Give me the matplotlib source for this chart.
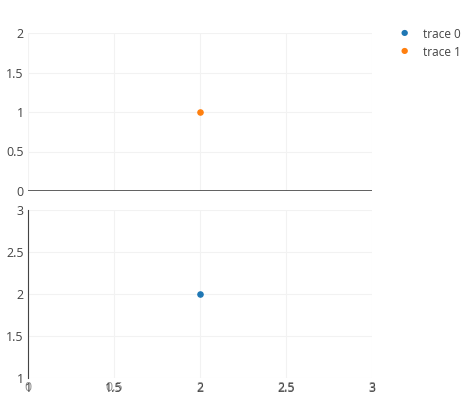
import matplotlib.pyplot as plt

plt.rcParams['font.family'] = ['Open Sans', 'DejaVu Sans']

trace0_x = [2]
trace0_y = [2]
trace1_x = [2]
trace1_y = [1]
x_ticks = [1, 1.5, 2, 2.5, 3]
x_overlay_labels = ['0', '0.5', '2', '2.5', '3']
top_yticks = [0, 0.5, 1, 1.5, 2]
bot_yticks = [1, 1.5, 2, 2.5, 3]

W, H = 474, 412
fig = plt.figure(figsize=(W / 100, H / 100), dpi=100)

def box(x0, x1, ytop, ybot):
    return [x0 / W, 1 - ybot / H, (x1 - x0) / W, (ybot - ytop) / H]

ax_top = fig.add_axes(box(28, 372, 33, 191))
ax_bot = fig.add_axes(box(28, 372, 210, 378))

grey = '#444444'
for ax in (ax_top, ax_bot):
    for s in ax.spines.values():
        s.set_visible(False)
    ax.set_xlim(1, 3)
    ax.set_xticks(x_ticks)
    ax.grid(color='#f2f2f2', linewidth=0.8)
    ax.set_axisbelow(True)
    ax.tick_params(length=0, labelsize=9, colors=grey, pad=3)

ax_top.set_ylim(0, 2)
ax_top.set_yticks(top_yticks)
ax_top.set_yticklabels(['0', '0.5', '1', '1.5', '2'])
ax_top.set_xticklabels([])
ax_top.axhline(0, color=grey, linewidth=1.2)
ax_top.scatter(trace1_x, trace1_y, color='#ff7f0e', s=14, zorder=3, clip_on=False)

ax_bot.set_ylim(1, 3)
ax_bot.set_yticks(bot_yticks)
ax_bot.set_yticklabels(['1', '1.5', '2', '2.5', '3'])
ax_bot.spines['left'].set_visible(True)
ax_bot.spines['left'].set_color(grey)
ax_bot.set_xticklabels(['1', '1.5', '2', '2.5', '3'])
# second set of x labels drawn over the first, as in the reference
for t, lab in zip(x_ticks, x_overlay_labels):
    ax_bot.text(t, -0.015, lab, transform=ax_bot.get_xaxis_transform(),
                ha='center', va='top', fontsize=9, color=grey, alpha=0.6)
ax_bot.scatter(trace0_x, trace0_y, color='#1f77b4', s=14, zorder=3, clip_on=False)

# legend
fig.text(404 / W, 1 - 34 / H, '\u25CF', color='#1f77b4', fontsize=6, ha='center', va='center')
fig.text(423 / W, 1 - 34 / H, 'trace 0', color=grey, fontsize=8.5, va='center')
fig.text(404 / W, 1 - 52 / H, '\u25CF', color='#ff7f0e', fontsize=6, ha='center', va='center')
fig.text(423 / W, 1 - 52 / H, 'trace 1', color=grey, fontsize=8.5, va='center')

fig.savefig('out.png', dpi=100)
